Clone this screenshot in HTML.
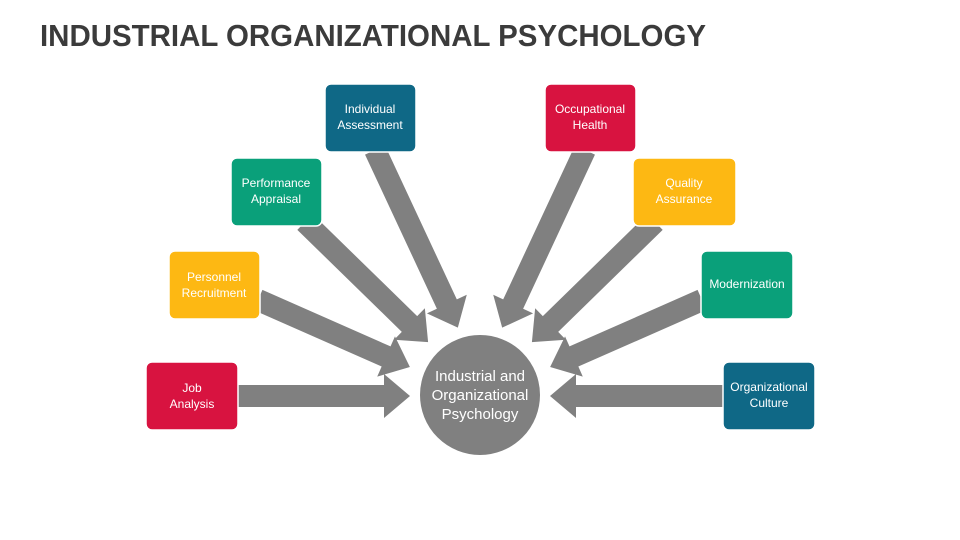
<!DOCTYPE html>
<html><head><meta charset="utf-8"><style>
body{margin:0;width:960px;height:540px;background:#fff;overflow:hidden}
svg{display:block;font-family:"Liberation Sans",sans-serif}
</style></head><body>
<svg width="960" height="540" viewBox="0 0 960 540">
<text x="40" y="46" font-size="31" font-weight="bold" fill="#3b3b3b" textLength="666" lengthAdjust="spacingAndGlyphs">INDUSTRIAL ORGANIZATIONAL PSYCHOLOGY</text>
<g fill="#808080">
<path transform="translate(238,396) rotate(0)" d="M0,-11 L146,-11 L146,-22 L172,0 L146,22 L146,11 L0,11Z"/>
<path transform="translate(258,300) rotate(23.8)" d="M0,-11 L140,-11 L140,-22 L166,0 L140,22 L140,11 L0,11Z"/>
<path transform="translate(305,222) rotate(44.3)" d="M0,-11 L146,-11 L146,-22 L172,0 L146,22 L146,11 L0,11Z"/>
<path transform="translate(375,150) rotate(65)" d="M0,-11 L170,-11 L170,-22 L196,0 L170,22 L170,11 L0,11Z"/>
<path transform="translate(585,150) rotate(115)" d="M0,-11 L170,-11 L170,-22 L196,0 L170,22 L170,11 L0,11Z"/>
<path transform="translate(655,222) rotate(135.7)" d="M0,-11 L146,-11 L146,-22 L172,0 L146,22 L146,11 L0,11Z"/>
<path transform="translate(702,300) rotate(156.2)" d="M0,-11 L140,-11 L140,-22 L166,0 L140,22 L140,11 L0,11Z"/>
<path transform="translate(723,396) rotate(180)" d="M0,-11 L147,-11 L147,-22 L173,0 L147,22 L147,11 L0,11Z"/>
</g>
<circle cx="480" cy="395" r="61" fill="#808080" stroke="#fff" stroke-width="2"/>
<g fill="#fff" font-size="15" text-anchor="middle">
<text x="480" y="381">Industrial and</text>
<text x="480" y="400">Organizational</text>
<text x="480" y="419">Psychology</text>
</g>
<g stroke="#fff" stroke-width="1.5">
<rect x="146" y="362" width="92" height="68" rx="6" fill="#d81340"/>
<rect x="169" y="251" width="91" height="68" rx="6" fill="#fdb813"/>
<rect x="231" y="158" width="91" height="68" rx="6" fill="#0aa07a"/>
<rect x="325" y="84" width="91" height="68" rx="6" fill="#0f6886"/>
<rect x="545" y="84" width="91" height="68" rx="6" fill="#d81340"/>
<rect x="633" y="158" width="103" height="68" rx="6" fill="#fdb813"/>
<rect x="701" y="251" width="92" height="68" rx="6" fill="#0aa07a"/>
<rect x="723" y="362" width="92" height="68" rx="6" fill="#0f6886"/>
</g>
<g fill="#fff" font-size="12" text-anchor="middle">
<text x="192" y="392">Job</text><text x="192" y="408">Analysis</text>
<text x="214" y="281">Personnel</text><text x="214" y="297">Recruitment</text>
<text x="276" y="187">Performance</text><text x="276" y="203">Appraisal</text>
<text x="370" y="113">Individual</text><text x="370" y="129">Assessment</text>
<text x="590" y="113">Occupational</text><text x="590" y="129">Health</text>
<text x="684" y="187">Quality</text><text x="684" y="203">Assurance</text>
<text x="747" y="288">Modernization</text>
<text x="769" y="391">Organizational</text><text x="769" y="407">Culture</text>
</g>
</svg>
</body></html>
